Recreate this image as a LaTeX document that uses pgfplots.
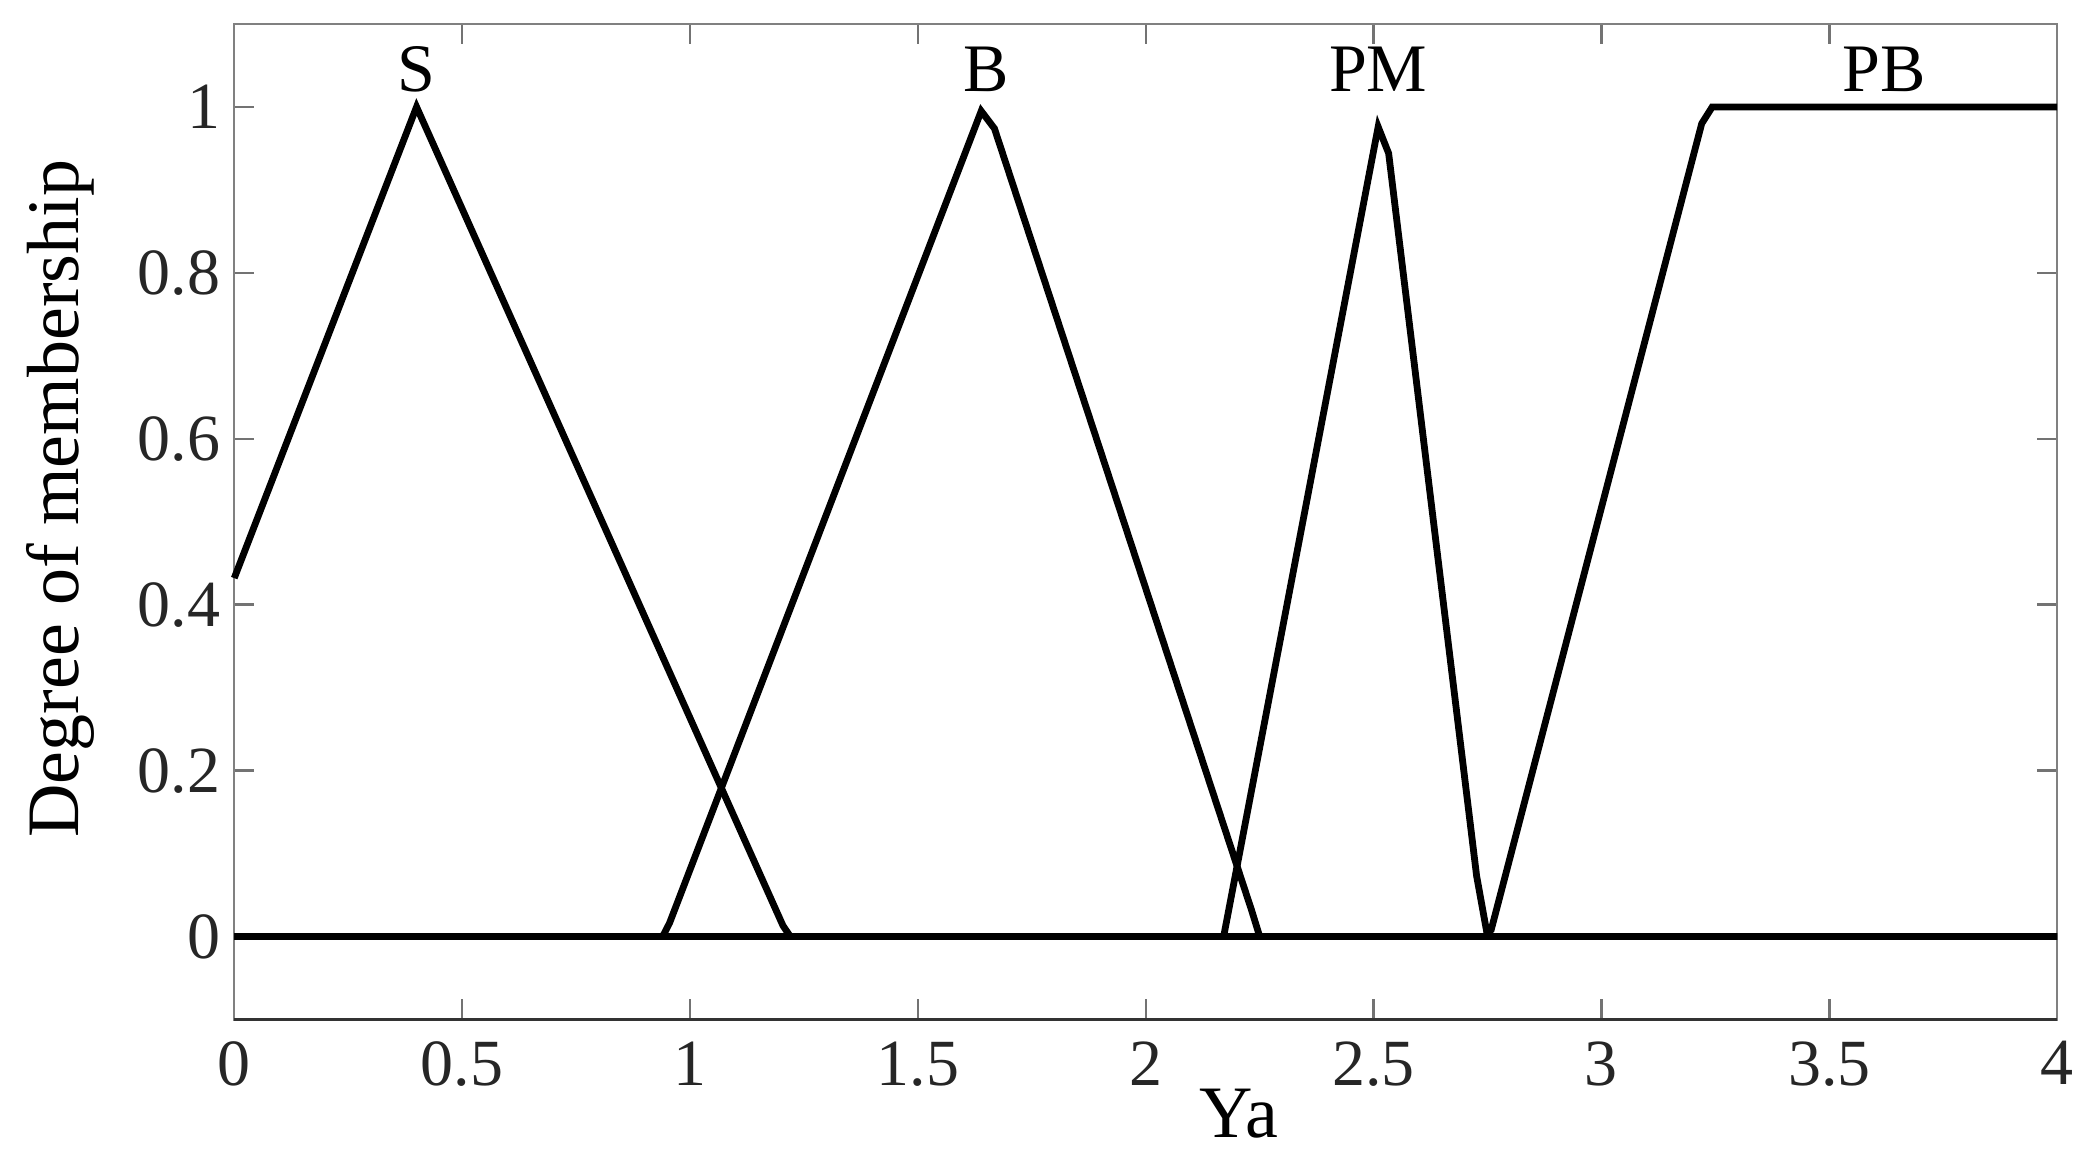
\documentclass[border=0pt]{standalone}
\usepackage{pgfplots}
\pgfplotsset{compat=1.18}
\usepackage{fontspec}
\setmainfont{Liberation Serif}
\begin{document}
\begin{tikzpicture}
\begin{axis}[
  name=main,
  scale only axis,
  width=456pt, height=249pt,
  xmin=0, xmax=4, ymin=-0.1, ymax=1.1,
  xtick={0,0.5,1,1.5,2,2.5,3,3.5,4},
  xticklabels={0,0.5,1,1.5,2,2.5,3,3.5,4},
  ytick={0,0.2,0.4,0.6,0.8,1},
  yticklabels={0,0.2,0.4,0.6,0.8,1},
  tick align=inside,
  major tick length=5pt,
  tick style={color=black!55, line width=0.6pt},
  axis line style={color=black!50, line width=0.6pt},
  ticklabel style={font=\fontsize{16.5}{18}\selectfont, text=black!85},
  xticklabel style={yshift=-2pt},
  label style={font=\fontsize{18.5}{21}\selectfont},
  xlabel={Ya},
  ylabel={Degree of membership},
  xlabel style={at={(axis description cs:0.551,0)}, anchor=base, yshift=-29.6pt},
  ylabel style={at={(axis description cs:0,0.523)}, anchor=center, yshift=43.6pt},
  clip=false,
]
\draw[black!80, line width=0.7pt] (rel axis cs:0,0) -- (rel axis cs:1,0);
% S
\addplot[black, line width=1.7pt] coordinates {
 (0,0.432) (0.4,1) (1.204,0.013) (1.22,0) (4,0)};
% B
\addplot[black, line width=1.7pt] coordinates {
 (0,0) (0.94,0) (0.955,0.016) (1.639,0.995) (1.668,0.974) (2.232,0.032) (2.25,0) (4,0)};
% PM
\addplot[black, line width=1.7pt] coordinates {
 (0,0) (2.171,0) (2.51,0.976) (2.533,0.944) (2.726,0.073) (2.75,0) (4,0)};
% PB
\addplot[black, line width=1.7pt] coordinates {
 (0,0) (2.744,0) (2.758,0.008) (3.22,0.98) (3.243,1) (4,1)};
\node[font=\fontsize{17}{19}\selectfont] at (axis cs:0.4,1.045) {S};
\node[font=\fontsize{17}{19}\selectfont] at (axis cs:1.65,1.045) {B};
\node[font=\fontsize{17}{19}\selectfont] at (axis cs:2.51,1.045) {PM};
\node[font=\fontsize{17}{19}\selectfont] at (axis cs:3.62,1.045) {PB};
\end{axis}
\pgfresetboundingbox
\path ([xshift=-58.6pt,yshift=-36pt]main.south west) rectangle ([xshift=7.7pt,yshift=6pt]main.north east);
\end{tikzpicture}
\end{document}
